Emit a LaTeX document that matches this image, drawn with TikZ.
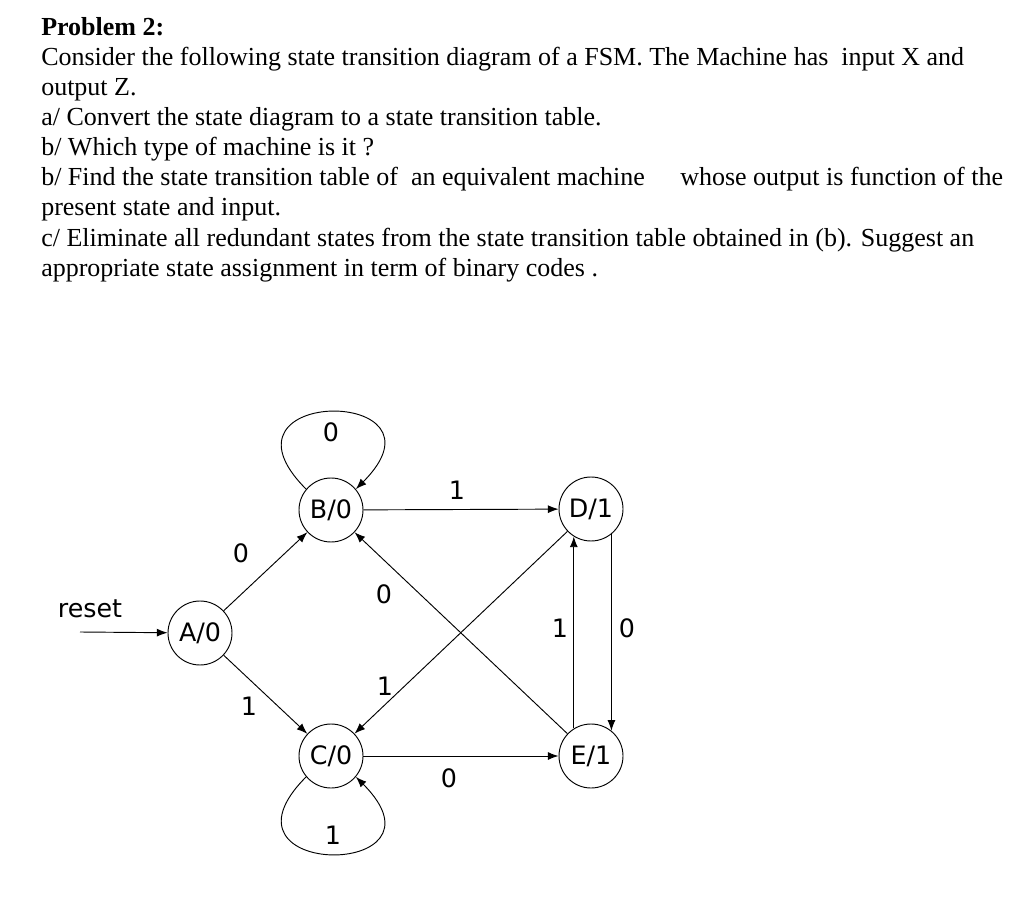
\documentclass[tikz,border=0pt]{standalone}
\usepackage{fontspec}
\setmainfont{Liberation Serif}
\newfontfamily\diagfont{DejaVu Sans}
\usetikzlibrary{arrows.meta}

\begin{document}
\begin{tikzpicture}
  [x=0.75pt,y=-0.75pt,
   every node/.style={inner sep=0pt},
   line/.style={anchor=base west,font=\fontsize{19.5}{22}\selectfont},
   state/.style={circle,draw,line width=0.7pt,minimum size=48pt,font=\diagfont\fontsize{19}{22}\selectfont},
   lbl/.style={font=\diagfont\fontsize{19}{22}\selectfont},
   trans/.style={line width=0.7pt,-{Latex[length=8pt,width=6pt]}}]
  \useasboundingbox (0,0) rectangle (1024,905);

  % problem text
  \node[line] (t1) at (41,36) {\textbf{Problem 2:}};
  \node[line] (t2) at (41,66) {Consider the following state transition diagram of a FSM. The Machine has \ input X and};
  \node[line] (t3) at (41,96) {output Z.};
  \node[line] (t4) at (41,126) {a/ Convert the state diagram to a state transition table.};
  \node[line] (t5) at (41,156) {b/ Which type of machine is it ?};
  \node[line] (t6) at (41,186) {b/ Find the state transition table of \ an equivalent machine};
  \node[line] (t6b) at (680,186) {whose output is function of the};
  \node[line] (t7) at (41,216) {present state and input.};
  \node[line] (t8) at (41,247) {c/ Eliminate all redundant states from the state transition table obtained in (b). Suggest an};
  \node[line] (t9) at (41,277) {appropriate state assignment in term of binary codes .};

  % states
  \node[state] (A) at (200,633) {A/0};
  \node[state] (B) at (331,510) {B/0};
  \node[state] (C) at (331,756) {C/0};
  \node[state] (D) at (591,509) {D/1};
  \node[state] (E) at (591,756) {E/1};
  \coordinate (r) at (80,632);

  % transitions
  \draw[trans] (r) -- (A);
  \foreach \from/\to in {A/B,A/C,B/D,C/E,E/B,D/C}
    \draw[trans] (\from) -- (\to);
  \draw[trans] (E.122) -- (D.238);
  \draw[trans] (D.309) -- (E.51);
  \draw[trans] (B.140) to[out=135,in=45,looseness=7.5] (B.40);
  \draw[trans] (C.220) to[out=225,in=315,looseness=7.5] (C.320);

  % labels
  \node[lbl] (lr) at (90,609) {reset};
  \node[lbl] (lab) at (241,553) {0};
  \node[lbl] (lac) at (249,706) {1};
  \node[lbl] (lbb) at (331,432) {0};
  \node[lbl] (lbd) at (457,490) {1};
  \node[lbl] (leb) at (384,594) {0};
  \node[lbl] (ldc) at (385,686) {1};
  \node[lbl] (lce) at (449,778) {0};
  \node[lbl] (led) at (560,628) {1};
  \node[lbl] (lde) at (627,628) {0};
  \node[lbl] (lcc) at (333,835) {1};
\end{tikzpicture}
\end{document}
